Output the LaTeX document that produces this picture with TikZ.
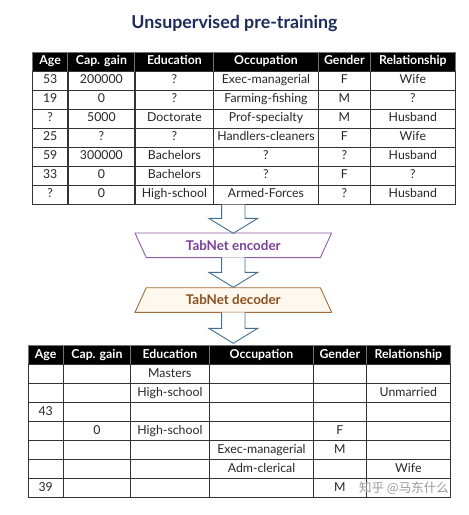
\documentclass[tikz,border=0pt]{standalone}
\usepackage{fontspec}
\setmainfont{Lato}
\newfontfamily\cjkfont{Noto Sans CJK SC}
\usetikzlibrary{matrix,shapes.geometric,calc,positioning}
\tikzset{every picture/.style={line width=0.75pt}}
\definecolor{titlenavy}{RGB}{28,43,90}
\definecolor{encpurple}{RGB}{123,63,153}
\definecolor{decbrown}{RGB}{140,79,30}
\definecolor{decline}{RGB}{163,107,59}
\definecolor{decfill}{RGB}{255,248,238}
\definecolor{arrblue}{RGB}{68,112,143}
\tikzset{
  cell/.style={draw=black!80, line width=0.8pt, inner sep=0pt, minimum height=19,
    text height=8.8pt, text depth=2.5pt, text=black!85, font=\fontsize{12.3}{14}\selectfont},
  headcell/.style={fill=black, draw=black!55, text=white, font=\fontsize{12.3}{14}\selectfont\bfseries},
  tab/.style={matrix of nodes, nodes in empty cells, inner sep=0pt, outer sep=0pt,
    column sep=-0.8pt, row sep=-0.8pt, nodes={cell},
    row 1/.style={nodes={headcell}},
    column 1/.style={nodes={minimum width=35.5}},
    column 2/.style={nodes={minimum width=67}},
    column 3/.style={nodes={minimum width=79}},
    column 4/.style={nodes={minimum width=104.2}},
    column 5/.style={nodes={minimum width=52.5}},
    column 6/.style={nodes={minimum width=84.5}}},
  netbox/.style={trapezium, trapezium stretches=true, trapezium angle=58.6,
    minimum width=196.7, minimum height=24.6, inner sep=0pt, line width=0.9pt,
    font=\fontsize{13.4}{15}\selectfont\bfseries},
  blockarr/.style={draw=arrblue, line width=0.9pt, fill=white, line join=miter}
}
% hollow block arrow from #1 (shaft start) to #2 (tip)
\newcommand{\blockarrow}[2]{%
  \draw[blockarr] ($(#1)+(-11.7,0)$) -- ($(#2)+(-11.7,-15)$) -- ($(#2)+(-24.5,-15)$) -- (#2)
    -- ($(#2)+(24.5,-15)$) -- ($(#2)+(11.7,-15)$) -- ($(#1)+(11.7,0)$);}

\begin{document}
\begin{tikzpicture}[x=1pt,y=1pt,yscale=-1,xscale=1]
\useasboundingbox (0,0) rectangle (469,515);

% Title
\node (title) at (234.5,23.5) [text=titlenavy, font=\fontsize{17.8}{20}\selectfont\bfseries] {Unsupervised pre-training};

% Table: input with masked entries
\matrix (pre) [tab, anchor=north west] at (32,51.7) {
  Age & Cap. gain & Education & Occupation & Gender & Relationship \\
  53 & 200000 & ? & Exec-managerial & F & Wife \\
  19 & 0 & ? & Farming-fishing & M & ? \\
  ? & 5000 & Doctorate & Prof-specialty & M & Husband \\
  25 & ? & ? & Handlers-cleaners & F & Wife \\
  59 & 300000 & Bachelors & ? & ? & Husband \\
  33 & 0 & Bachelors & ? & F & ? \\
  ? & 0 & High-school & Armed-Forces & ? & Husband \\
};

% Encoder and decoder
\node (enc) at (233.3,245.3) [netbox, shape border rotate=180, draw=encpurple!85, text=encpurple, fill=white] {TabNet encoder};
\node (dec) at (233.3,300) [netbox, draw=decline, text=decbrown, fill=decfill] {TabNet decoder};

% Table: reconstructed entries
\matrix (post) [tab, anchor=north west] at (27.5,345) {
  Age & Cap. gain & Education & Occupation & Gender & Relationship \\
   & & Masters & & & \\
   & & High-school & & & Unmarried \\
  43 & & & & & \\
   & 0 & High-school & & F & \\
   & & & Exec-managerial & M & \\
   & & & Adm-clerical & & Wife \\
  39 & & & & M & \\
};

% Block arrows
\coordinate (a1s) at (enc.center |- pre.south);
\coordinate (a1t) at ($(enc.center)+(0,-12)$);
\coordinate (a2s) at ($(enc.center)+(0,12)$);
\coordinate (a2t) at ($(dec.center)+(0,-12.7)$);
\coordinate (a3s) at ($(dec.center)+(0,12.3)$);
\coordinate (a3t) at ($(dec.center |- post.north)+(0,-1.7)$);
\blockarrow{a1s}{a1t}
\blockarrow{a2s}{a2t}
\blockarrow{a3s}{a3t}

% Watermark
\node (wm) at (404,488) [text=black!40, font=\fontsize{12.5}{14}\selectfont\cjkfont] {知乎 @马东什么};

\end{tikzpicture}
\end{document}
